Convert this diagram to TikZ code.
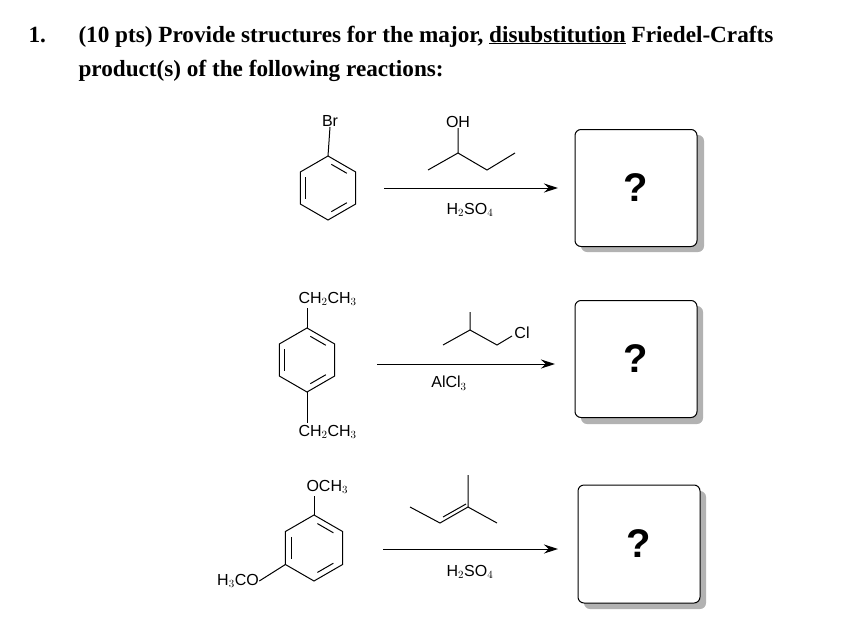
\documentclass[tikz,border=0pt]{standalone}
\usepackage{fontspec}
\setmainfont{Liberation Serif}
\newfontfamily\chem{Liberation Sans}
\usetikzlibrary{arrows.meta}
\begin{document}
\begin{tikzpicture}[x=1pt,y=-1pt,line width=1pt,
  lbl/.style={font=\chem\fontsize{16}{16}\selectfont,inner sep=0pt},
  ttl/.style={anchor=base west,inner sep=0pt,font=\bfseries\fontsize{23.2}{23.2}\selectfont},
  qbox/.style={draw,rounded corners=6pt,minimum width=122pt,minimum height=117pt,fill=white,line width=1pt},
  qmark/.style={font=\chem\bfseries\fontsize{40}{40}\selectfont},
  shadowbox/.style={fill=gray!60,rounded corners=6pt},
  rxn/.style={-{Stealth[length=14pt,width=9pt]},line width=1pt}]
\useasboundingbox (0,0) rectangle (854,640);
% title
\node[ttl] (t1) at (28,42) {1.};
\node[ttl] (t2) at (78,42) {(10 pts) Provide structures for the major, \underline{disubstitution} Friedel-Crafts};
\node[ttl] (t3) at (78,76) {product(s) of the following reactions:};
\newcommand\benz[3]{% cx cy r
  \begin{scope}[shift={(#1,#2)}]
  \draw (0,-#3) -- ({0.866*#3},{-0.5*#3}) -- ({0.866*#3},{0.5*#3}) -- (0,#3) -- ({-0.866*#3},{0.5*#3}) -- ({-0.866*#3},{-0.5*#3}) -- cycle;
  \draw ({-0.693*#3},{-0.34*#3}) -- ({-0.693*#3},{0.34*#3});
  \draw ({0.104*#3},{-0.74*#3}) -- ({0.589*#3},{-0.46*#3});
  \draw ({0.104*#3},{0.74*#3}) -- ({0.589*#3},{0.46*#3});
  \end{scope}}
% reaction 1
\benz{328}{188}{32}
\node[lbl] (br) at (330,121) {Br};
\draw (328,156) -- (br.south);
\node[lbl] (oh) at (458,122) {OH};
\coordinate (c1) at (458,153);
\draw (oh.south) -- (c1) -- (428,170);
\draw (c1) -- (487,170) -- (515,153);
\draw[rxn] (384,188) -- (558,188);
\node[lbl] (r1) at (470,210) {H$_2$SO$_4$};
\fill[shadowbox] (581,135) rectangle (704,252);
\node[qbox] (b1) at (636,188) {};
\node[qmark] at (b1) {?};
% reaction 2
\benz{307}{360}{32}
\node[lbl,anchor=west] (e1) at (298,299) {CH$_2$CH$_3$};
\node[lbl,anchor=west] (e2) at (298,432) {CH$_2$CH$_3$};
\draw (307,328) -- (307,308);
\draw (307,392) -- (307,423);
\coordinate (c2) at (470,330);
\draw (443,345) -- (c2) -- (470,312);
\draw (c2) -- (497,345) -- (512,336);
\node[lbl] (cl) at (522,333) {Cl};
\draw[rxn] (377,364) -- (555,364);
\node[lbl] (r2) at (449,383) {AlCl$_3$};
\fill[shadowbox] (581,306) rectangle (703,424);
\node[qbox] (b2) at (636,359) {};
\node[qmark] at (b2) {?};
% reaction 3
\benz{314}{548}{33}
\node[lbl,anchor=west] (o1) at (306,487) {OCH$_3$};
\draw (314,515) -- (314,496);
\node[lbl] (o2) at (238,581) {H$_3$CO};
\draw (285.4,564.5) -- (o2.east);
\coordinate (d1) at (440,523); \coordinate (d2) at (468,507);
\draw (410,507) -- (d1) -- (d2) -- (468,475);
\draw (d2) -- (497,523);
\draw (443,517) -- (466,504);
\draw[rxn] (383,549) -- (558,549);
\node[lbl] (r3) at (470,572) {H$_2$SO$_4$};
\fill[shadowbox] (584,491) rectangle (706,609);
\node[qbox,minimum height=118pt] (b3) at (639,544) {};
\node[qmark] at (b3) {?};
\end{tikzpicture}
\end{document}
